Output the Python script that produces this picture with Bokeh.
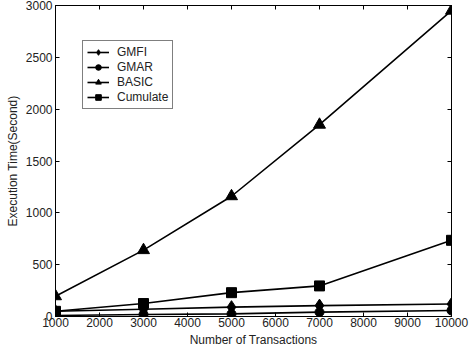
from bokeh.plotting import figure
from bokeh.models import Range1d, FixedTicker, LinearAxis, Legend, LegendItem
from bokeh.embed import file_html
from bokeh.resources import INLINE

transactions = [1000, 3000, 5000, 7000, 10000]
gmfi = [50, 70, 90, 105, 120]
gmar = [10, 20, 25, 42, 58]
basic = [195, 640, 1160, 1850, 2950]
cumulate = [50, 125, 230, 295, 735]

x_ticks = [1000, 2000, 3000, 4000, 5000, 6000, 7000, 8000, 9000, 10000]
y_ticks = [0, 500, 1000, 1500, 2000, 2500, 3000]

FONT = "Liberation Sans"

p = figure(width=474, height=357, output_backend="svg", toolbar_location=None,
           x_range=Range1d(1000, 10000), y_range=Range1d(0, 3000),
           min_border_left=55, min_border_right=23, min_border_top=5, min_border_bottom=41)
p.xgrid.visible = False
p.ygrid.visible = False
p.outline_line_color = "black"
p.outline_line_width = 1
p.background_fill_color = "white"
p.border_fill_color = "white"

for ax, ticks in ((p.xaxis[0], x_ticks), (p.yaxis[0], y_ticks)):
    ax.ticker = FixedTicker(ticks=ticks)
    ax.major_tick_in = 4
    ax.major_tick_out = 0
    ax.minor_tick_line_color = None
    ax.axis_line_color = "black"
    ax.major_label_text_font = FONT
    ax.major_label_text_font_size = "12px"
    ax.major_label_text_color = "#222222"
    ax.axis_label_text_font = FONT
    ax.axis_label_text_font_size = "12px"
    ax.axis_label_text_font_style = "normal"
    ax.axis_label_text_color = "#222222"

p.xaxis[0].major_label_standoff = 1
p.yaxis[0].major_label_standoff = 3
p.xaxis[0].axis_label = "Number of Transactions"
p.yaxis[0].axis_label = "Execution Time(Second)"
p.xaxis[0].axis_label_standoff = 3
p.yaxis[0].axis_label_standoff = 3

top = LinearAxis(ticker=FixedTicker(ticks=x_ticks), major_tick_in=4, major_tick_out=0,
                 minor_tick_line_color=None, major_label_text_color=None,
                 major_label_text_font_size="1px", major_label_standoff=0)
right = LinearAxis(ticker=FixedTicker(ticks=y_ticks), major_tick_in=4, major_tick_out=0,
                   minor_tick_line_color=None, major_label_text_color=None,
                   major_label_text_font_size="1px", major_label_standoff=0)
p.add_layout(top, "above")
p.add_layout(right, "right")

items = []
series = [("GMFI", gmfi, "diamond", 13), ("GMAR", gmar, "circle", 9),
          ("BASIC", basic, "triangle", 12), ("Cumulate", cumulate, "square", 10)]
for name, ys, marker, size in series:
    l = p.line(transactions, ys, line_color="black", line_width=1.6)
    m = p.scatter(transactions, ys, marker=marker, size=size, fill_color="black", line_color="black")
    items.append(LegendItem(label=name, renderers=[l, m]))

legend = Legend(items=items, location=(27, 207))
legend.label_text_font = FONT
legend.label_text_font_size = "12px"
legend.label_text_color = "#222222"
legend.glyph_width = 22
legend.glyph_height = 14
legend.label_height = 14
legend.spacing = 1
legend.padding = 4
legend.margin = 0
legend.label_standoff = 8
legend.border_line_color = "black"
legend.border_line_width = 1
legend.background_fill_alpha = 1
p.add_layout(legend, "center")

open("out.html", "w").write(file_html(p, INLINE))
